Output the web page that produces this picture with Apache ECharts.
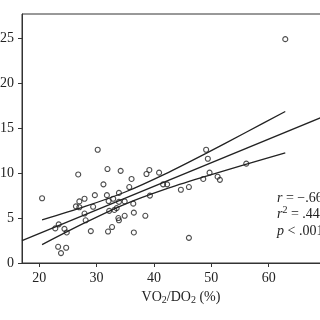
<!DOCTYPE html>
<html>
<head>
<meta charset="utf-8">
<style>
  html, body { margin: 0; padding: 0; background: #fff; }
  #chart { width: 320px; height: 320px; }
</style>
<script src="https://cdn.jsdelivr.net/npm/echarts@6/dist/echarts.min.js"></script>
</head>
<body>
<div id="chart"></div>
<script>
// observed points, VO2/DO2 (%) vs y
const xValues = [20.5, 22.8, 23.4, 23.3, 23.8, 24.4, 24.7, 24.8, 26.4, 26.8,
  27.0, 27.0, 27.9, 27.9, 28.1, 29.0, 29.4, 29.7, 30.2, 31.2,
  31.8, 31.9, 32.1, 32.2, 32.0, 32.7, 32.9, 33.1, 33.5, 33.9,
  33.9, 33.8, 33.9, 34.2, 34.9, 34.9, 35.7, 36.1, 36.4, 36.5,
  36.5, 38.5, 38.7, 39.2, 39.3, 40.9, 41.6, 42.3, 44.7, 46.1,
  46.1, 48.6, 49.1, 49.4, 49.7, 51.1, 51.5, 56.1, 62.9]
const yValues = [7.2, 3.85, 4.3, 1.8, 1.1, 3.8, 1.7, 3.4, 6.3, 9.85,
  6.85, 6.2, 7.15, 5.5, 4.75, 3.55, 6.25, 7.55, 12.6, 8.75,
  7.55, 10.45, 6.9, 5.8, 3.5, 4.0, 7.15, 5.9, 6.1, 7.8,
  6.8, 5.0, 4.75, 10.25, 6.85, 5.25, 8.45, 9.35, 6.6, 5.6,
  3.4, 5.25, 9.9, 10.35, 7.5, 10.05, 8.75, 8.75, 8.15, 8.45,
  2.8, 9.35, 12.6, 11.6, 10.05, 9.6, 9.25, 11.05, 24.9]

// regression line and confidence band
const fitX = [17, 70]
const fitY = [2.5, 16.4]
const bandX = [20.5, 28, 35, 42, 49, 56, 62.9]
const upperBand = [4.79, 6.29, 7.9, 9.92, 12.17, 14.52, 16.85]
const lowerBand = [2.05, 4.49, 6.56, 8.22, 9.63, 10.96, 12.25]

const xTicks = [20, 30, 40, 50, 60, 70]
const xLabels = [20, 30, 40, 50, 60]
const yTicks = [0, 5, 10, 15, 20, 25]

const ink = '#222'
const serif = '"Liberation Serif", "DejaVu Serif", serif'

const zip = (a, b) => a.map((v, i) => [v, b[i]])

const chart = echarts.init(document.getElementById('chart'))

const option = {
  backgroundColor: '#fff',
  animation: false,
  grid: {
    left: 22,
    right: -6,
    top: 14,
    bottom: 57,
    outerBoundsMode: 'none',
    containLabel: false,
    show: true,
    borderColor: '#333',
    borderWidth: 1
  },
  xAxis: {
    type: 'value',
    min: 17,
    max: 70,
    splitLine: { show: false },
    axisLine: { lineStyle: { color: '#333', width: 1 } },
    axisTick: { length: 4, customValues: xTicks, lineStyle: { color: '#333' } },
    axisLabel: {
      customValues: xLabels,
      margin: 8,
      color: ink,
      fontFamily: serif,
      fontSize: 14
    }
  },
  yAxis: {
    type: 'value',
    min: 0,
    max: 27.7,
    splitLine: { show: false },
    axisLine: { lineStyle: { color: '#333', width: 1 } },
    axisTick: { length: 4, customValues: yTicks, lineStyle: { color: '#333' } },
    axisLabel: {
      customValues: yTicks,
      margin: 8,
      color: ink,
      fontFamily: serif,
      fontSize: 14
    }
  },
  graphic: [
    {
      type: 'text',
      x: 181,
      y: 297,
      style: {
        text: 'VO{sub|2}/DO{sub|2} (%)',
        align: 'center',
        verticalAlign: 'middle',
        fill: ink,
        font: '14px ' + serif,
        rich: {
          sub: { fontSize: 10, fontFamily: serif, fill: ink, padding: [7, 0, 0, 0] }
        }
      }
    },
    {
      type: 'text',
      x: 277,
      y: 198,
      style: {
        text: '{i|r} = \u2212.66',
        verticalAlign: 'middle',
        fill: ink,
        font: '14px ' + serif,
        rich: { i: { fontStyle: 'italic', fontSize: 14, fontFamily: serif, fill: ink } }
      }
    },
    {
      type: 'text',
      x: 277,
      y: 214,
      style: {
        text: '{i|r}{sup|2} = .44',
        verticalAlign: 'middle',
        fill: ink,
        font: '14px ' + serif,
        rich: {
          i: { fontStyle: 'italic', fontSize: 14, fontFamily: serif, fill: ink },
          sup: { fontSize: 10, fontFamily: serif, fill: ink, padding: [0, 0, 7, 0] }
        }
      }
    },
    {
      type: 'text',
      x: 277,
      y: 231,
      style: {
        text: '{i|p} < .001',
        verticalAlign: 'middle',
        fill: ink,
        font: '14px ' + serif,
        rich: { i: { fontStyle: 'italic', fontSize: 14, fontFamily: serif, fill: ink } }
      }
    }
  ],
  series: [
    {
      type: 'scatter',
      data: zip(xValues, yValues),
      symbol: 'circle',
      symbolSize: 5,
      itemStyle: { color: 'transparent', borderColor: ink, borderWidth: 1.1 }
    },
    {
      type: 'line',
      data: zip(fitX, fitY),
      symbol: 'none',
      lineStyle: { color: ink, width: 1.3 }
    },
    {
      type: 'line',
      data: zip(bandX, upperBand),
      symbol: 'none',
      smooth: 0.3,
      lineStyle: { color: ink, width: 1.3 }
    },
    {
      type: 'line',
      data: zip(bandX, lowerBand),
      symbol: 'none',
      smooth: 0.3,
      lineStyle: { color: ink, width: 1.3 }
    }
  ]
}

chart.setOption(option)

window.addEventListener('resize', () => {
  chart.resize()
})
</script>
</body>
</html>
